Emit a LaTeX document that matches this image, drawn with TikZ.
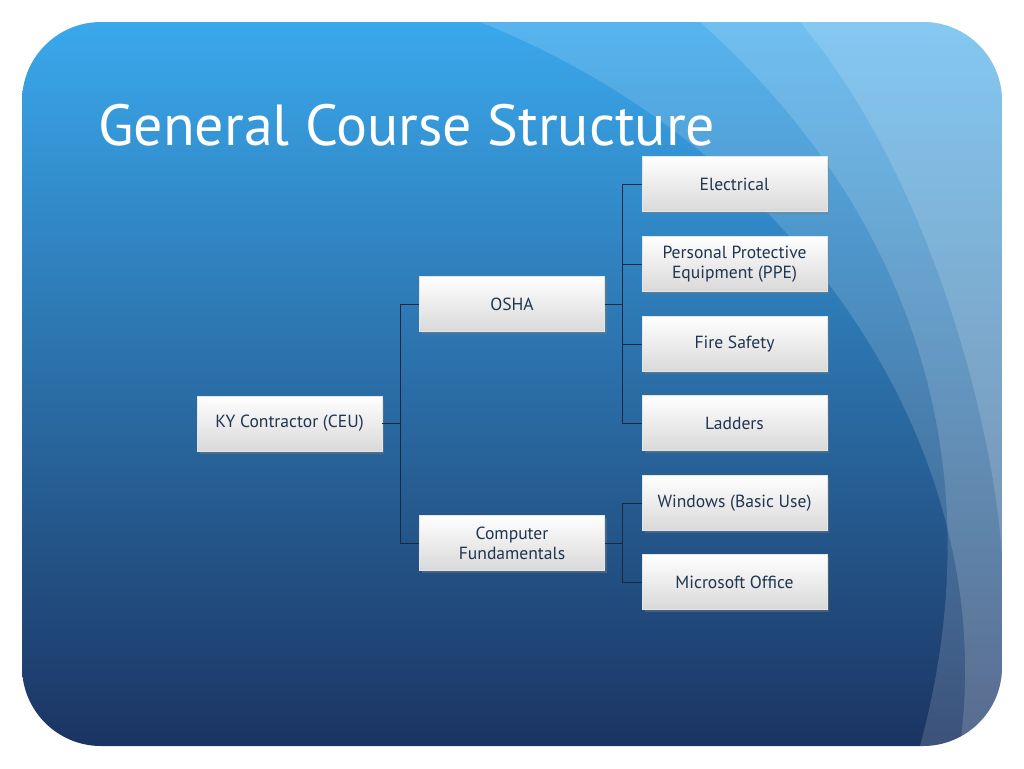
\documentclass[tikz,border=0pt]{standalone}
\usepackage{fontspec}
\setmainfont{PT Sans}
\usetikzlibrary{positioning,shadows}
\definecolor{bgtop}{HTML}{3AA8EC}
\definecolor{bgbot}{HTML}{1B3462}
\definecolor{boxtext}{HTML}{1F3550}
\tikzset{
        box/.style={draw=white!80!gray, minimum width=3.7cm, minimum height=1.1cm,
                    align=center, top color=white, bottom color=gray!30,
                    text=boxtext, font=\fontsize{10}{11.5}\selectfont,
                    drop shadow={opacity=0.4, shadow xshift=0.05cm, shadow yshift=-0.05cm}},
        link/.style={draw=boxtext!80!black, line width=0.5pt},
 }
\begin{document}
\begin{tikzpicture}[x=0.02cm, y=-0.02cm]
    \useasboundingbox (0,0) rectangle (1024,768);
    \fill[white] (0,0) rectangle (1024,768);
    \shade[top color=bgtop, bottom color=bgbot, rounded corners=45pt]
         (22,22) rectangle (1002,746);
    % decorative curves
    \begin{scope}
    \clip[rounded corners=45pt] (22,22) rectangle (1002,746);
    \fill[white, fill opacity=0.15] (480,22) .. controls (800,150) and (1000,450) .. (960,746)
         -- (1002,746) -- (1002,22) -- cycle;
    \fill[white, fill opacity=0.15] (700,22) .. controls (900,200) and (1000,450) .. (920,746)
         -- (1002,746) -- (1002,22) -- cycle;
    \fill[white, fill opacity=0.15] (800,22) .. controls (950,200) and (1010,500) .. (1002,600)
         -- (1002,22) -- cycle;
    \end{scope}
    \node[anchor=west, text=white, font=\fontsize{33}{36}\selectfont] (title) at (92,125)
         {General Course Structure};

    \node[box] (ky) at (289.5,423.5) {KY Contractor (CEU)};
    \node[box] (osha) at (512,304) {OSHA};
    \node[box] (comp) at (512,543) {Computer\\Fundamentals};
    \node[box] (elec) at (734.5,184) {Electrical};
    \node[box] (ppe) at (734.5,264) {Personal Protective\\Equipment (PPE)};
    \node[box] (fire) at (734.5,344) {Fire Safety};
    \node[box] (lad) at (734.5,423) {Ladders};
    \node[box] (win) at (734.5,503) {Windows (Basic Use)};
    \node[box] (office) at (734.5,582) {Microsoft Office};

    \foreach \child in {osha, comp}
        \draw[link] (ky.east) -- ++(18,0) |- (\child.west);
    \foreach \child in {elec, ppe, fire, lad}
        \draw[link] (osha.east) -- ++(18,0) |- (\child.west);
    \foreach \child in {win, office}
        \draw[link] (comp.east) -- ++(18,0) |- (\child.west);
\end{tikzpicture}
\end{document}
